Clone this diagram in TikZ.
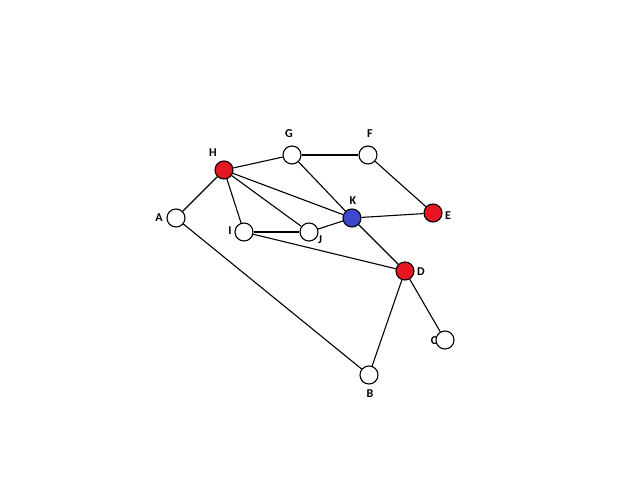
\documentclass[tikz,border=0pt]{standalone}
\usepackage{fontspec}
\setsansfont{Carlito}
\usepackage{tikz}
\usetikzlibrary{positioning}
\definecolor{vred}{RGB}{230,22,34}
\definecolor{vblue}{RGB}{62,72,205}

\begin{document}
\begin{tikzpicture}[x=1pt,y=-1pt,
vertex/.style = {draw,circle,line width=1.1pt,minimum width=18pt,
                 minimum height=18pt,inner sep=0pt,fill=white},
red/.style    = {fill=vred},
blue/.style   = {fill=vblue},
lbl/.style    = {font=\sffamily\bfseries\fontsize{12}{14}\selectfont,inner sep=1pt}
                        ]
\useasboundingbox (0,0) rectangle (638,478);
%
\node (h) [vertex,red]  at (224,170) {};
\node (g) [vertex]      at (292,155) {};
\node (f) [vertex]      at (368,155) {};
\node (k) [vertex,blue] at (352,218) {};
\node (e) [vertex,red]  at (433,213) {};
\node (a) [vertex]      at (176,218) {};
\node (i) [vertex]      at (244,232) {};
\node (j) [vertex]      at (309,232) {};
\node (d) [vertex,red]  at (405,271) {};
\node (c) [vertex]      at (445,340) {};
\node (b) [vertex]      at (369,375) {};
%
\node[lbl] at (213,153) {H};
\node[lbl] at (289,134) {G};
\node[lbl] at (370,134) {F};
\node[lbl] at (353,201) {K};
\node[lbl] at (448,216) {E};
\node[lbl] at (159,218) {A};
\node[lbl] at (230,231) {I};
\node[lbl] at (320,240) {J};
\node[lbl] at (421,272) {D};
\node[lbl] at (434,341) {C};
\node[lbl] at (370,394) {B};
%
\foreach \u/\v in {h/g, g/f, f/e, h/a, h/i, h/j, h/k, g/k, k/e,
                   k/j, i/j, i/d, k/d, d/b, d/c, a/b}
    \draw[line width=1.1pt] (\u) -- (\v);
\end{tikzpicture}
\end{document}
